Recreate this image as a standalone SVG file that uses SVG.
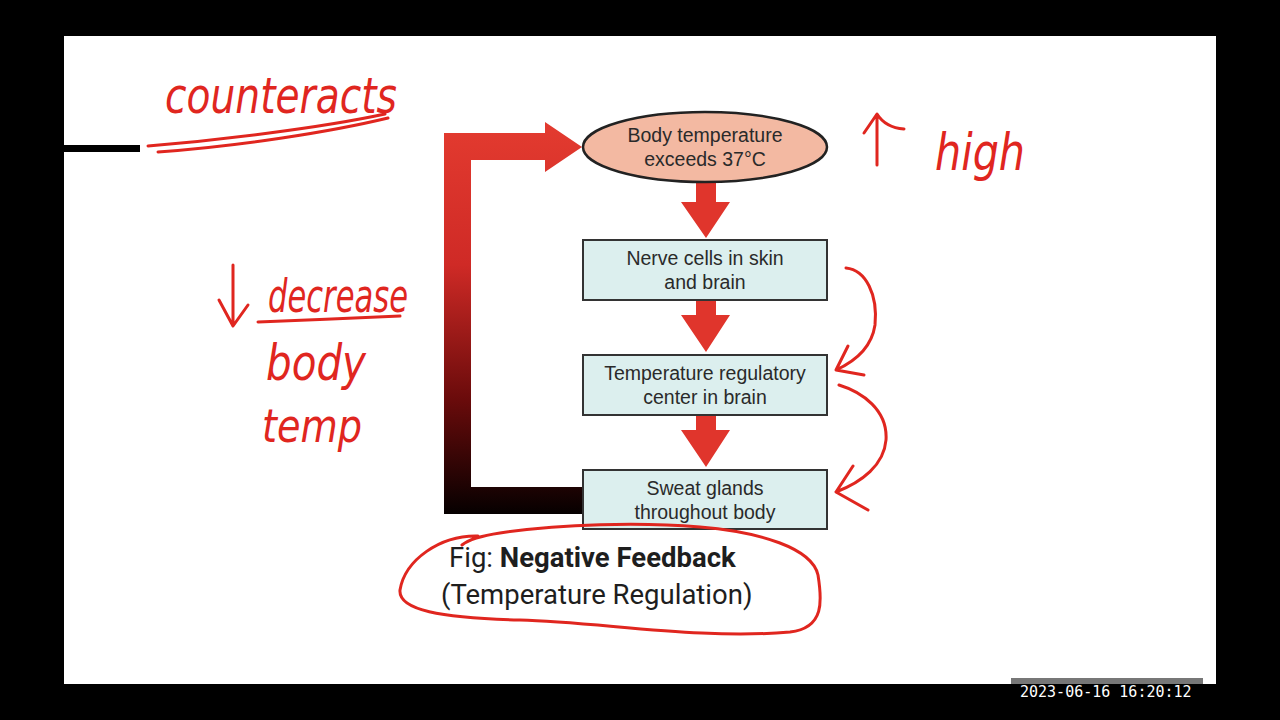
<svg xmlns="http://www.w3.org/2000/svg" width="1280" height="720" viewBox="0 0 1280 720">
<style>
.box{fill:#dcefee;stroke:#333;stroke-width:2}
.lbl{font-family:"Liberation Sans",Arial,sans-serif;font-size:19.5px;fill:#2a2a2a;text-anchor:middle}
.dn{fill:#e0352c}
.ink{fill:none;stroke:#e0261f;stroke-width:3;stroke-linecap:round;stroke-linejoin:round}
.hw{font-family:"DejaVu Sans",sans-serif;font-style:italic;fill:#e0261f}
.cap{font-family:Roboto,"Liberation Sans",sans-serif;font-size:27.5px;fill:#1e1e1e}
</style>
<defs>
<linearGradient id="fb" x1="0" y1="130" x2="0" y2="515" gradientUnits="userSpaceOnUse">
<stop offset="0" stop-color="#e23a2f"/>
<stop offset="0.35" stop-color="#cf2a26"/>
<stop offset="0.7" stop-color="#6a0b0b"/>
<stop offset="1" stop-color="#050000"/>
</linearGradient>
</defs>
<rect x="0" y="0" width="1280" height="720" fill="#000"/>
<rect x="64" y="36" width="1152" height="648" fill="#fff"/>
<rect x="64" y="145" width="76" height="7" fill="#000"/>
<g id="timestamp">
<rect x="1011" y="678" width="192" height="6" fill="#777"/>
<text x="1020" y="697" font-family="DejaVu Sans Mono,monospace" font-size="15" fill="#fff">2023-06-16 16:20:12</text>
</g>
<g id="connectors">
<path id="feedback" fill="url(#fb)" d="M444,514 L583,514 L583,487 L471,487 L471,160 L545,160 L545,172 L582,147 L545,122 L545,133 L444,133 Z"/>
<path class="dn" d="M696,182 L716,182 L716,202 L730,202 L706,238 L681,202 L696,202 Z"/>
<path class="dn" d="M696,300 L716,300 L716,315 L730,315 L706,352 L681,315 L696,315 Z"/>
<path class="dn" d="M696,415 L716,415 L716,430 L730,430 L706,467 L681,430 L696,430 Z"/>
</g>
<g id="n-body">
<ellipse cx="705" cy="147" rx="122" ry="35" fill="#f3b9a2" stroke="#222" stroke-width="2.5"/>
<text class="lbl" x="705" y="142">Body temperature</text>
<text class="lbl" x="705" y="166">exceeds 37°C</text>
</g>
<g id="n-nerve">
<rect class="box" x="583" y="240" width="244" height="60"/>
<text class="lbl" x="705" y="265">Nerve cells in skin</text>
<text class="lbl" x="705" y="289">and brain</text>
</g>
<g id="n-center">
<rect class="box" x="583" y="355" width="244" height="60"/>
<text class="lbl" x="705" y="380">Temperature regulatory</text>
<text class="lbl" x="705" y="404">center in brain</text>
</g>
<g id="n-sweat">
<rect class="box" x="583" y="470" width="244" height="59"/>
<text class="lbl" x="705" y="495">Sweat glands</text>
<text class="lbl" x="705" y="519">throughout body</text>
</g>
<g id="caption">
<text class="cap" x="449" y="567">Fig: <tspan font-weight="bold">Negative Feedback</tspan></text>
<text class="cap" x="441" y="604">(Temperature Regulation)</text>
</g>
<g id="annotations">
<text class="hw" x="165" y="113" font-size="50" textLength="232" lengthAdjust="spacingAndGlyphs">counteracts</text>
<path class="ink" d="M148,146 C220,140 320,128 385,114 M158,152 C240,146 330,132 388,118"/>
<path class="ink" d="M877,165 L877,116 M864,133 L877,114 C882,122 890,128 904,129"/>
<text class="hw" x="935" y="170" font-size="52" textLength="90" lengthAdjust="spacingAndGlyphs">high</text>
<path class="ink" d="M233,265 L233,325 M219,300 L233,326 L248,305"/>
<text class="hw" x="268" y="312" font-size="46" textLength="140" lengthAdjust="spacingAndGlyphs">decrease</text>
<path class="ink" d="M258,322 C300,320 360,318 400,316"/>
<text class="hw" x="266" y="380" font-size="50" textLength="100" lengthAdjust="spacingAndGlyphs">body</text>
<text class="hw" x="262" y="442" font-size="46" textLength="100" lengthAdjust="spacingAndGlyphs">temp</text>
<path class="ink" d="M846,268 C866,270 878,295 875,325 C872,345 858,360 836,370 M848,346 L836,370 L864,375"/>
<path class="ink" d="M839,385 C862,392 888,410 886,440 C884,465 862,482 836,492 M853,466 L836,492 L868,510"/>
<path class="ink" d="M478,536 C440,535 405,560 400,590 C398,610 440,618 520,620 C600,622 700,640 790,632 C825,628 822,600 818,575 C812,548 760,532 700,527 C640,522 560,524 500,533 C480,536 468,540 462,545"/>
</g>
</svg>
